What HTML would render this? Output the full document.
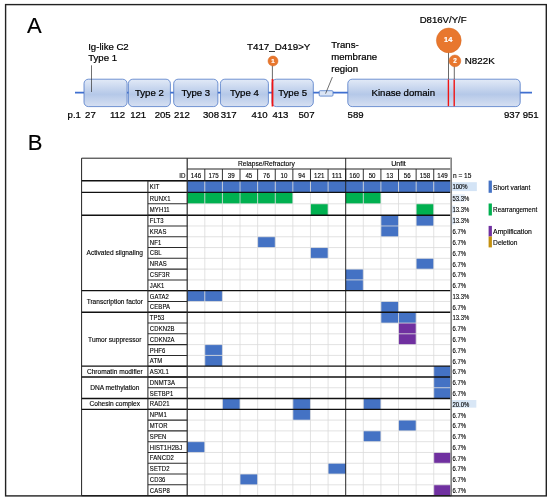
<!DOCTYPE html>
<html lang="en"><head><meta charset="utf-8"><title>KIT mutations figure</title>
<style>
html,body{margin:0;padding:0;background:#fff;}
body{width:550px;height:500px;overflow:hidden;}
svg{display:block;font-family:"Liberation Sans",sans-serif;}
</style></head><body>
<svg width="550" height="500" viewBox="0 0 550 500">
<defs>
<linearGradient id="dom" x1="0" y1="0" x2="0" y2="1">
<stop offset="0" stop-color="#e2eaf7"/>
<stop offset="0.55" stop-color="#b5c8e8"/>
<stop offset="1" stop-color="#d6e0f2"/>
</linearGradient>
</defs>
<rect x="0" y="0" width="550" height="500" fill="#fff"/>

<text x="27.00" y="33.20" font-size="22" fill="#000" stroke="#000" stroke-width="0.15">A</text>
<text x="27.70" y="150.00" font-size="22" fill="#000" stroke="#000" stroke-width="0.15">B</text>
<line x1="75.00" y1="92.60" x2="532.00" y2="92.60" stroke="#3f6fd0" stroke-width="1.6"/>
<rect x="84.00" y="79.20" width="43.10" height="27.40" fill="url(#dom)" stroke="#4571c4" stroke-width="0.75" rx="4.4"/>
<rect x="128.40" y="79.20" width="42.00" height="27.40" fill="url(#dom)" stroke="#4571c4" stroke-width="0.75" rx="4.4"/>
<text x="149.40" y="96.20" font-size="9.6" text-anchor="middle" fill="#000" stroke="#000" stroke-width="0.22">Type 2</text>
<rect x="173.70" y="79.20" width="44.20" height="27.40" fill="url(#dom)" stroke="#4571c4" stroke-width="0.75" rx="4.4"/>
<text x="195.80" y="96.20" font-size="9.6" text-anchor="middle" fill="#000" stroke="#000" stroke-width="0.22">Type 3</text>
<rect x="220.40" y="79.20" width="48.00" height="27.40" fill="url(#dom)" stroke="#4571c4" stroke-width="0.75" rx="4.4"/>
<text x="244.40" y="96.20" font-size="9.6" text-anchor="middle" fill="#000" stroke="#000" stroke-width="0.22">Type 4</text>
<rect x="272.00" y="79.20" width="41.30" height="27.40" fill="url(#dom)" stroke="#4571c4" stroke-width="0.75" rx="4.4"/>
<text x="292.65" y="96.20" font-size="9.6" text-anchor="middle" fill="#000" stroke="#000" stroke-width="0.22">Type 5</text>
<rect x="347.80" y="79.20" width="172.40" height="27.40" fill="url(#dom)" stroke="#4571c4" stroke-width="0.75" rx="4.4"/>
<text x="403.30" y="96.20" font-size="9.6" text-anchor="middle" fill="#000" stroke="#000" stroke-width="0.22">Kinase domain</text>
<rect x="319.20" y="90.70" width="13.80" height="5.40" fill="#dbe5f5" stroke="#4c78c6" stroke-width="0.8" rx="1"/>
<line x1="332.40" y1="77.00" x2="325.60" y2="93.60" stroke="#333" stroke-width="0.7"/>
<text x="88.20" y="49.50" font-size="9.6" fill="#000" stroke="#000" stroke-width="0.22">Ig-like C2</text>
<text x="88.20" y="61.20" font-size="9.6" fill="#000" stroke="#000" stroke-width="0.22">Type 1</text>
<line x1="91.50" y1="65.30" x2="91.50" y2="92.00" stroke="#333" stroke-width="0.7"/>
<text x="247.00" y="49.70" font-size="9.6" textLength="63.40" lengthAdjust="spacingAndGlyphs" fill="#000" stroke="#000" stroke-width="0.22">T417_D419&gt;Y</text>
<text x="331.30" y="48.40" font-size="9.6" fill="#000" stroke="#000" stroke-width="0.22">Trans-</text>
<text x="331.30" y="60.10" font-size="9.6" fill="#000" stroke="#000" stroke-width="0.22">membrane</text>
<text x="331.30" y="71.60" font-size="9.6" fill="#000" stroke="#000" stroke-width="0.22">region</text>
<text x="419.70" y="22.90" font-size="9.6" fill="#000" stroke="#000" stroke-width="0.22">D816V/Y/F</text>
<text x="464.70" y="64.40" font-size="9.6" textLength="30.00" lengthAdjust="spacingAndGlyphs" fill="#000" stroke="#000" stroke-width="0.22">N822K</text>
<text x="67.60" y="118.00" font-size="9.6" fill="#000" stroke="#000" stroke-width="0.22">p.1</text>
<text x="85.10" y="118.00" font-size="9.6" fill="#000" stroke="#000" stroke-width="0.22">27</text>
<text x="125.20" y="118.00" font-size="9.6" text-anchor="end" fill="#000" stroke="#000" stroke-width="0.22">112</text>
<text x="130.20" y="118.00" font-size="9.6" fill="#000" stroke="#000" stroke-width="0.22">121</text>
<text x="170.70" y="118.00" font-size="9.6" text-anchor="end" fill="#000" stroke="#000" stroke-width="0.22">205</text>
<text x="173.90" y="118.00" font-size="9.6" fill="#000" stroke="#000" stroke-width="0.22">212</text>
<text x="219.00" y="118.00" font-size="9.6" text-anchor="end" fill="#000" stroke="#000" stroke-width="0.22">308</text>
<text x="220.70" y="118.00" font-size="9.6" fill="#000" stroke="#000" stroke-width="0.22">317</text>
<text x="267.60" y="118.00" font-size="9.6" text-anchor="end" fill="#000" stroke="#000" stroke-width="0.22">410</text>
<text x="272.40" y="118.00" font-size="9.6" fill="#000" stroke="#000" stroke-width="0.22">413</text>
<text x="314.50" y="118.00" font-size="9.6" text-anchor="end" fill="#000" stroke="#000" stroke-width="0.22">507</text>
<text x="347.60" y="118.00" font-size="9.6" fill="#000" stroke="#000" stroke-width="0.22">589</text>
<text x="504.00" y="118.00" font-size="9.6" fill="#000" stroke="#000" stroke-width="0.22">937 951</text>
<line x1="272.40" y1="65.00" x2="272.40" y2="79.00" stroke="#444" stroke-width="0.8"/>
<line x1="272.50" y1="79.00" x2="272.50" y2="106.50" stroke="#f01414" stroke-width="1.8"/>
<circle cx="273" cy="61" r="5" fill="#e8772e" stroke="#d96a22" stroke-width="0.5"/>
<text x="273.00" y="63.30" font-size="6.2" text-anchor="middle" font-weight="bold" fill="#fff" stroke="#fff" stroke-width="0.22">1</text>
<line x1="448.50" y1="52.00" x2="448.50" y2="79.00" stroke="#444" stroke-width="0.8"/>
<line x1="454.30" y1="66.00" x2="454.30" y2="79.00" stroke="#444" stroke-width="0.8"/>
<line x1="448.40" y1="79.40" x2="448.40" y2="106.20" stroke="#f01414" stroke-width="1.4"/>
<line x1="454.20" y1="79.40" x2="454.20" y2="106.20" stroke="#f01414" stroke-width="1.4"/>
<circle cx="448.8" cy="40.4" r="12.4" fill="#e8772e" stroke="#d96a22" stroke-width="0.5"/>
<text x="448.20" y="42.40" font-size="7.4" text-anchor="middle" font-weight="bold" fill="#fff" stroke="#fff" stroke-width="0.22">14</text>
<circle cx="454.9" cy="60.9" r="5.9" fill="#e8772e" stroke="#d96a22" stroke-width="0.5"/>
<text x="454.90" y="63.20" font-size="6.3" text-anchor="middle" font-weight="bold" fill="#fff" stroke="#fff" stroke-width="0.22">2</text>
<rect x="451.95" y="182.20" width="24.90" height="8.90" fill="#d4e4f6"/>
<rect x="451.95" y="194.20" width="13.00" height="7.60" fill="#e6eff9"/>
<rect x="451.95" y="205.60" width="3.30" height="7.60" fill="#dfeaf7"/>
<rect x="451.95" y="217.00" width="3.30" height="7.40" fill="#dfeaf7"/>
<rect x="451.95" y="400.04" width="24.40" height="7.60" fill="#d9e7f6"/>
<rect x="187.20" y="180.70" width="17.61" height="11.70" fill="#4472c4"/>
<rect x="204.81" y="180.70" width="17.61" height="11.70" fill="#4472c4"/>
<rect x="222.42" y="180.70" width="17.61" height="11.70" fill="#4472c4"/>
<rect x="240.03" y="180.70" width="17.61" height="11.70" fill="#4472c4"/>
<rect x="257.64" y="180.70" width="17.61" height="11.70" fill="#4472c4"/>
<rect x="275.25" y="180.70" width="17.61" height="11.70" fill="#4472c4"/>
<rect x="292.86" y="180.70" width="17.61" height="11.70" fill="#4472c4"/>
<rect x="310.47" y="180.70" width="17.61" height="11.70" fill="#4472c4"/>
<rect x="328.08" y="180.70" width="17.61" height="11.70" fill="#4472c4"/>
<rect x="345.69" y="180.70" width="17.61" height="11.70" fill="#4472c4"/>
<rect x="363.30" y="180.70" width="17.61" height="11.70" fill="#4472c4"/>
<rect x="380.91" y="180.70" width="17.61" height="11.70" fill="#4472c4"/>
<rect x="398.52" y="180.70" width="17.61" height="11.70" fill="#4472c4"/>
<rect x="416.13" y="180.70" width="17.61" height="11.70" fill="#4472c4"/>
<rect x="433.74" y="180.70" width="17.61" height="11.70" fill="#4472c4"/>
<rect x="187.20" y="192.40" width="17.61" height="11.40" fill="#00b050"/>
<rect x="204.81" y="192.40" width="17.61" height="11.40" fill="#00b050"/>
<rect x="222.42" y="192.40" width="17.61" height="11.40" fill="#00b050"/>
<rect x="240.03" y="192.40" width="17.61" height="11.40" fill="#00b050"/>
<rect x="257.64" y="192.40" width="17.61" height="11.40" fill="#00b050"/>
<rect x="275.25" y="192.40" width="17.61" height="11.40" fill="#00b050"/>
<rect x="345.69" y="192.40" width="17.61" height="11.40" fill="#00b050"/>
<rect x="363.30" y="192.40" width="17.61" height="11.40" fill="#00b050"/>
<rect x="310.47" y="203.80" width="17.61" height="11.40" fill="#00b050"/>
<rect x="416.13" y="203.80" width="17.61" height="11.40" fill="#00b050"/>
<rect x="380.91" y="215.20" width="17.61" height="10.78" fill="#4472c4"/>
<rect x="416.13" y="215.20" width="17.61" height="10.78" fill="#4472c4"/>
<rect x="380.91" y="225.98" width="17.61" height="10.78" fill="#4472c4"/>
<rect x="257.64" y="236.77" width="17.61" height="10.78" fill="#4472c4"/>
<rect x="310.47" y="247.55" width="17.61" height="10.78" fill="#4472c4"/>
<rect x="416.13" y="258.34" width="17.61" height="10.78" fill="#4472c4"/>
<rect x="345.69" y="269.12" width="17.61" height="10.78" fill="#4472c4"/>
<rect x="345.69" y="279.91" width="17.61" height="10.78" fill="#4472c4"/>
<rect x="187.20" y="290.69" width="17.61" height="10.78" fill="#4472c4"/>
<rect x="204.81" y="290.69" width="17.61" height="10.78" fill="#4472c4"/>
<rect x="380.91" y="301.48" width="17.61" height="10.78" fill="#4472c4"/>
<rect x="380.91" y="312.26" width="17.61" height="10.78" fill="#4472c4"/>
<rect x="398.52" y="312.26" width="17.61" height="10.78" fill="#4472c4"/>
<rect x="398.52" y="323.05" width="17.61" height="10.78" fill="#7030a0"/>
<rect x="398.52" y="333.83" width="17.61" height="10.78" fill="#7030a0"/>
<rect x="204.81" y="344.62" width="17.61" height="10.78" fill="#4472c4"/>
<rect x="204.81" y="355.40" width="17.61" height="10.78" fill="#4472c4"/>
<rect x="433.74" y="366.18" width="17.61" height="10.78" fill="#4472c4"/>
<rect x="433.74" y="376.97" width="17.61" height="10.78" fill="#4472c4"/>
<rect x="433.74" y="387.75" width="17.61" height="10.78" fill="#4472c4"/>
<rect x="222.42" y="398.54" width="17.61" height="10.78" fill="#4472c4"/>
<rect x="292.86" y="398.54" width="17.61" height="10.78" fill="#4472c4"/>
<rect x="363.30" y="398.54" width="17.61" height="10.78" fill="#4472c4"/>
<rect x="292.86" y="409.32" width="17.61" height="10.78" fill="#4472c4"/>
<rect x="398.52" y="420.11" width="17.61" height="10.78" fill="#4472c4"/>
<rect x="363.30" y="430.89" width="17.61" height="10.78" fill="#4472c4"/>
<rect x="187.20" y="441.68" width="17.61" height="10.78" fill="#4472c4"/>
<rect x="433.74" y="452.46" width="17.61" height="10.78" fill="#7030a0"/>
<rect x="328.08" y="463.25" width="17.61" height="10.78" fill="#4472c4"/>
<rect x="240.03" y="474.03" width="17.61" height="10.78" fill="#4472c4"/>
<rect x="433.74" y="484.82" width="17.61" height="10.78" fill="#7030a0"/>
<line x1="204.81" y1="180.70" x2="204.81" y2="495.60" stroke="#dadada" stroke-width="0.8"/>
<line x1="222.42" y1="180.70" x2="222.42" y2="495.60" stroke="#dadada" stroke-width="0.8"/>
<line x1="240.03" y1="180.70" x2="240.03" y2="495.60" stroke="#dadada" stroke-width="0.8"/>
<line x1="257.64" y1="180.70" x2="257.64" y2="495.60" stroke="#dadada" stroke-width="0.8"/>
<line x1="275.25" y1="180.70" x2="275.25" y2="495.60" stroke="#dadada" stroke-width="0.8"/>
<line x1="292.86" y1="180.70" x2="292.86" y2="495.60" stroke="#dadada" stroke-width="0.8"/>
<line x1="310.47" y1="180.70" x2="310.47" y2="495.60" stroke="#dadada" stroke-width="0.8"/>
<line x1="328.08" y1="180.70" x2="328.08" y2="495.60" stroke="#dadada" stroke-width="0.8"/>
<line x1="363.30" y1="180.70" x2="363.30" y2="495.60" stroke="#dadada" stroke-width="0.8"/>
<line x1="380.91" y1="180.70" x2="380.91" y2="495.60" stroke="#dadada" stroke-width="0.8"/>
<line x1="398.52" y1="180.70" x2="398.52" y2="495.60" stroke="#dadada" stroke-width="0.8"/>
<line x1="416.13" y1="180.70" x2="416.13" y2="495.60" stroke="#dadada" stroke-width="0.8"/>
<line x1="433.74" y1="180.70" x2="433.74" y2="495.60" stroke="#dadada" stroke-width="0.8"/>
<line x1="187.20" y1="203.80" x2="451.35" y2="203.80" stroke="#dadada" stroke-width="0.8"/>
<line x1="187.20" y1="225.98" x2="451.35" y2="225.98" stroke="#dadada" stroke-width="0.8"/>
<line x1="187.20" y1="236.77" x2="451.35" y2="236.77" stroke="#dadada" stroke-width="0.8"/>
<line x1="187.20" y1="247.55" x2="451.35" y2="247.55" stroke="#dadada" stroke-width="0.8"/>
<line x1="187.20" y1="258.34" x2="451.35" y2="258.34" stroke="#dadada" stroke-width="0.8"/>
<line x1="187.20" y1="269.12" x2="451.35" y2="269.12" stroke="#dadada" stroke-width="0.8"/>
<line x1="187.20" y1="279.91" x2="451.35" y2="279.91" stroke="#dadada" stroke-width="0.8"/>
<line x1="187.20" y1="301.48" x2="451.35" y2="301.48" stroke="#dadada" stroke-width="0.8"/>
<line x1="187.20" y1="323.05" x2="451.35" y2="323.05" stroke="#dadada" stroke-width="0.8"/>
<line x1="187.20" y1="333.83" x2="451.35" y2="333.83" stroke="#dadada" stroke-width="0.8"/>
<line x1="187.20" y1="344.62" x2="451.35" y2="344.62" stroke="#dadada" stroke-width="0.8"/>
<line x1="187.20" y1="355.40" x2="451.35" y2="355.40" stroke="#dadada" stroke-width="0.8"/>
<line x1="187.20" y1="387.75" x2="451.35" y2="387.75" stroke="#dadada" stroke-width="0.8"/>
<line x1="187.20" y1="420.11" x2="451.35" y2="420.11" stroke="#dadada" stroke-width="0.8"/>
<line x1="187.20" y1="430.89" x2="451.35" y2="430.89" stroke="#dadada" stroke-width="0.8"/>
<line x1="187.20" y1="441.68" x2="451.35" y2="441.68" stroke="#dadada" stroke-width="0.8"/>
<line x1="187.20" y1="452.46" x2="451.35" y2="452.46" stroke="#dadada" stroke-width="0.8"/>
<line x1="187.20" y1="463.25" x2="451.35" y2="463.25" stroke="#dadada" stroke-width="0.8"/>
<line x1="187.20" y1="474.03" x2="451.35" y2="474.03" stroke="#dadada" stroke-width="0.8"/>
<line x1="187.20" y1="484.82" x2="451.35" y2="484.82" stroke="#dadada" stroke-width="0.8"/>
<line x1="81.60" y1="158.20" x2="451.35" y2="158.20" stroke="#222" stroke-width="1"/>
<line x1="187.20" y1="169.00" x2="451.35" y2="169.00" stroke="#222" stroke-width="1.0"/>
<line x1="204.81" y1="169.00" x2="204.81" y2="180.70" stroke="#2a2a2a" stroke-width="0.95"/>
<line x1="222.42" y1="169.00" x2="222.42" y2="180.70" stroke="#2a2a2a" stroke-width="0.95"/>
<line x1="240.03" y1="169.00" x2="240.03" y2="180.70" stroke="#2a2a2a" stroke-width="0.95"/>
<line x1="257.64" y1="169.00" x2="257.64" y2="180.70" stroke="#2a2a2a" stroke-width="0.95"/>
<line x1="275.25" y1="169.00" x2="275.25" y2="180.70" stroke="#2a2a2a" stroke-width="0.95"/>
<line x1="292.86" y1="169.00" x2="292.86" y2="180.70" stroke="#2a2a2a" stroke-width="0.95"/>
<line x1="310.47" y1="169.00" x2="310.47" y2="180.70" stroke="#2a2a2a" stroke-width="0.95"/>
<line x1="328.08" y1="169.00" x2="328.08" y2="180.70" stroke="#2a2a2a" stroke-width="0.95"/>
<line x1="345.69" y1="169.00" x2="345.69" y2="180.70" stroke="#2a2a2a" stroke-width="0.95"/>
<line x1="363.30" y1="169.00" x2="363.30" y2="180.70" stroke="#2a2a2a" stroke-width="0.95"/>
<line x1="380.91" y1="169.00" x2="380.91" y2="180.70" stroke="#2a2a2a" stroke-width="0.95"/>
<line x1="398.52" y1="169.00" x2="398.52" y2="180.70" stroke="#2a2a2a" stroke-width="0.95"/>
<line x1="416.13" y1="169.00" x2="416.13" y2="180.70" stroke="#2a2a2a" stroke-width="0.95"/>
<line x1="433.74" y1="169.00" x2="433.74" y2="180.70" stroke="#2a2a2a" stroke-width="0.95"/>
<text x="266.44" y="165.80" font-size="6.6" text-anchor="middle" textLength="56.70" lengthAdjust="spacingAndGlyphs" fill="#000" stroke="#000" stroke-width="0.12">Relapse/Refractory</text>
<text x="398.52" y="165.80" font-size="6.6" text-anchor="middle" textLength="14.50" lengthAdjust="spacingAndGlyphs" fill="#000" stroke="#000" stroke-width="0.12">Unfit</text>
<text x="185.40" y="177.90" font-size="6.6" text-anchor="end" textLength="6.20" lengthAdjust="spacingAndGlyphs" fill="#000" stroke="#000" stroke-width="0.12">ID</text>
<text x="196.00" y="177.90" font-size="6.6" text-anchor="middle" textLength="10.35" lengthAdjust="spacingAndGlyphs" fill="#000" stroke="#000" stroke-width="0.12">146</text>
<text x="213.61" y="177.90" font-size="6.6" text-anchor="middle" textLength="10.35" lengthAdjust="spacingAndGlyphs" fill="#000" stroke="#000" stroke-width="0.12">175</text>
<text x="231.22" y="177.90" font-size="6.6" text-anchor="middle" textLength="6.90" lengthAdjust="spacingAndGlyphs" fill="#000" stroke="#000" stroke-width="0.12">39</text>
<text x="248.83" y="177.90" font-size="6.6" text-anchor="middle" textLength="6.90" lengthAdjust="spacingAndGlyphs" fill="#000" stroke="#000" stroke-width="0.12">45</text>
<text x="266.44" y="177.90" font-size="6.6" text-anchor="middle" textLength="6.90" lengthAdjust="spacingAndGlyphs" fill="#000" stroke="#000" stroke-width="0.12">76</text>
<text x="284.05" y="177.90" font-size="6.6" text-anchor="middle" textLength="6.90" lengthAdjust="spacingAndGlyphs" fill="#000" stroke="#000" stroke-width="0.12">10</text>
<text x="301.66" y="177.90" font-size="6.6" text-anchor="middle" textLength="6.90" lengthAdjust="spacingAndGlyphs" fill="#000" stroke="#000" stroke-width="0.12">94</text>
<text x="319.27" y="177.90" font-size="6.6" text-anchor="middle" textLength="10.35" lengthAdjust="spacingAndGlyphs" fill="#000" stroke="#000" stroke-width="0.12">121</text>
<text x="336.88" y="177.90" font-size="6.6" text-anchor="middle" textLength="10.35" lengthAdjust="spacingAndGlyphs" fill="#000" stroke="#000" stroke-width="0.12">111</text>
<text x="354.50" y="177.90" font-size="6.6" text-anchor="middle" textLength="10.35" lengthAdjust="spacingAndGlyphs" fill="#000" stroke="#000" stroke-width="0.12">160</text>
<text x="372.11" y="177.90" font-size="6.6" text-anchor="middle" textLength="6.90" lengthAdjust="spacingAndGlyphs" fill="#000" stroke="#000" stroke-width="0.12">50</text>
<text x="389.71" y="177.90" font-size="6.6" text-anchor="middle" textLength="6.90" lengthAdjust="spacingAndGlyphs" fill="#000" stroke="#000" stroke-width="0.12">13</text>
<text x="407.32" y="177.90" font-size="6.6" text-anchor="middle" textLength="6.90" lengthAdjust="spacingAndGlyphs" fill="#000" stroke="#000" stroke-width="0.12">56</text>
<text x="424.93" y="177.90" font-size="6.6" text-anchor="middle" textLength="10.35" lengthAdjust="spacingAndGlyphs" fill="#000" stroke="#000" stroke-width="0.12">158</text>
<text x="442.54" y="177.90" font-size="6.6" text-anchor="middle" textLength="10.35" lengthAdjust="spacingAndGlyphs" fill="#000" stroke="#000" stroke-width="0.12">149</text>
<text x="452.95" y="177.90" font-size="6.6" textLength="18.50" lengthAdjust="spacingAndGlyphs" fill="#000" stroke="#000" stroke-width="0.12">n = 15</text>
<line x1="147.90" y1="180.70" x2="187.20" y2="180.70" stroke="#2a2a2a" stroke-width="1.05"/>
<text transform="translate(149.80,189.05) scale(0.9,1)" font-size="6.6" fill="#000" stroke="#000" stroke-width="0.12" letter-spacing="0.15">KIT</text>
<text transform="translate(452.45,189.35) scale(0.9,1)" font-size="6.6" fill="#000" stroke="#000" stroke-width="0.12">100%</text>
<line x1="147.90" y1="192.40" x2="187.20" y2="192.40" stroke="#2a2a2a" stroke-width="1.05"/>
<text transform="translate(149.80,200.60) scale(0.9,1)" font-size="6.6" fill="#000" stroke="#000" stroke-width="0.12" letter-spacing="0.15">RUNX1</text>
<text transform="translate(452.45,200.90) scale(0.9,1)" font-size="6.6" fill="#000" stroke="#000" stroke-width="0.12">53.3%</text>
<line x1="147.90" y1="203.80" x2="187.20" y2="203.80" stroke="#2a2a2a" stroke-width="1.05"/>
<text transform="translate(149.80,212.00) scale(0.9,1)" font-size="6.6" fill="#000" stroke="#000" stroke-width="0.12" letter-spacing="0.15">MYH11</text>
<text transform="translate(452.45,212.30) scale(0.9,1)" font-size="6.6" fill="#000" stroke="#000" stroke-width="0.12">13.3%</text>
<line x1="147.90" y1="215.20" x2="187.20" y2="215.20" stroke="#2a2a2a" stroke-width="1.05"/>
<text transform="translate(149.80,223.09) scale(0.9,1)" font-size="6.6" fill="#000" stroke="#000" stroke-width="0.12" letter-spacing="0.15">FLT3</text>
<text transform="translate(452.45,223.39) scale(0.9,1)" font-size="6.6" fill="#000" stroke="#000" stroke-width="0.12">13.3%</text>
<line x1="147.90" y1="225.98" x2="187.20" y2="225.98" stroke="#2a2a2a" stroke-width="1.05"/>
<text transform="translate(149.80,233.88) scale(0.9,1)" font-size="6.6" fill="#000" stroke="#000" stroke-width="0.12" letter-spacing="0.15">KRAS</text>
<text transform="translate(452.45,234.18) scale(0.9,1)" font-size="6.6" fill="#000" stroke="#000" stroke-width="0.12">6.7%</text>
<line x1="147.90" y1="236.77" x2="187.20" y2="236.77" stroke="#2a2a2a" stroke-width="1.05"/>
<text transform="translate(149.80,244.66) scale(0.9,1)" font-size="6.6" fill="#000" stroke="#000" stroke-width="0.12" letter-spacing="0.15">NF1</text>
<text transform="translate(452.45,244.96) scale(0.9,1)" font-size="6.6" fill="#000" stroke="#000" stroke-width="0.12">6.7%</text>
<line x1="147.90" y1="247.55" x2="187.20" y2="247.55" stroke="#2a2a2a" stroke-width="1.05"/>
<text transform="translate(149.80,255.45) scale(0.9,1)" font-size="6.6" fill="#000" stroke="#000" stroke-width="0.12" letter-spacing="0.15">CBL</text>
<text transform="translate(452.45,255.75) scale(0.9,1)" font-size="6.6" fill="#000" stroke="#000" stroke-width="0.12">6.7%</text>
<line x1="147.90" y1="258.34" x2="187.20" y2="258.34" stroke="#2a2a2a" stroke-width="1.05"/>
<text transform="translate(149.80,266.23) scale(0.9,1)" font-size="6.6" fill="#000" stroke="#000" stroke-width="0.12" letter-spacing="0.15">NRAS</text>
<text transform="translate(452.45,266.53) scale(0.9,1)" font-size="6.6" fill="#000" stroke="#000" stroke-width="0.12">6.7%</text>
<line x1="147.90" y1="269.12" x2="187.20" y2="269.12" stroke="#2a2a2a" stroke-width="1.05"/>
<text transform="translate(149.80,277.02) scale(0.9,1)" font-size="6.6" fill="#000" stroke="#000" stroke-width="0.12" letter-spacing="0.15">CSF3R</text>
<text transform="translate(452.45,277.32) scale(0.9,1)" font-size="6.6" fill="#000" stroke="#000" stroke-width="0.12">6.7%</text>
<line x1="147.90" y1="279.91" x2="187.20" y2="279.91" stroke="#2a2a2a" stroke-width="1.05"/>
<text transform="translate(149.80,287.80) scale(0.9,1)" font-size="6.6" fill="#000" stroke="#000" stroke-width="0.12" letter-spacing="0.15">JAK1</text>
<text transform="translate(452.45,288.10) scale(0.9,1)" font-size="6.6" fill="#000" stroke="#000" stroke-width="0.12">6.7%</text>
<line x1="147.90" y1="290.69" x2="187.20" y2="290.69" stroke="#2a2a2a" stroke-width="1.05"/>
<text transform="translate(149.80,298.58) scale(0.9,1)" font-size="6.6" fill="#000" stroke="#000" stroke-width="0.12" letter-spacing="0.15">GATA2</text>
<text transform="translate(452.45,298.88) scale(0.9,1)" font-size="6.6" fill="#000" stroke="#000" stroke-width="0.12">13.3%</text>
<line x1="147.90" y1="301.48" x2="187.20" y2="301.48" stroke="#2a2a2a" stroke-width="1.05"/>
<text transform="translate(149.80,309.37) scale(0.9,1)" font-size="6.6" fill="#000" stroke="#000" stroke-width="0.12" letter-spacing="0.15">CEBPA</text>
<text transform="translate(452.45,309.67) scale(0.9,1)" font-size="6.6" fill="#000" stroke="#000" stroke-width="0.12">6.7%</text>
<line x1="147.90" y1="312.26" x2="187.20" y2="312.26" stroke="#2a2a2a" stroke-width="1.05"/>
<text transform="translate(149.80,320.15) scale(0.9,1)" font-size="6.6" fill="#000" stroke="#000" stroke-width="0.12" letter-spacing="0.15">TP53</text>
<text transform="translate(452.45,320.45) scale(0.9,1)" font-size="6.6" fill="#000" stroke="#000" stroke-width="0.12">13.3%</text>
<line x1="147.90" y1="323.05" x2="187.20" y2="323.05" stroke="#2a2a2a" stroke-width="1.05"/>
<text transform="translate(149.80,330.94) scale(0.9,1)" font-size="6.6" fill="#000" stroke="#000" stroke-width="0.12" letter-spacing="0.15">CDKN2B</text>
<text transform="translate(452.45,331.24) scale(0.9,1)" font-size="6.6" fill="#000" stroke="#000" stroke-width="0.12">6.7%</text>
<line x1="147.90" y1="333.83" x2="187.20" y2="333.83" stroke="#2a2a2a" stroke-width="1.05"/>
<text transform="translate(149.80,341.72) scale(0.9,1)" font-size="6.6" fill="#000" stroke="#000" stroke-width="0.12" letter-spacing="0.15">CDKN2A</text>
<text transform="translate(452.45,342.02) scale(0.9,1)" font-size="6.6" fill="#000" stroke="#000" stroke-width="0.12">6.7%</text>
<line x1="147.90" y1="344.62" x2="187.20" y2="344.62" stroke="#2a2a2a" stroke-width="1.05"/>
<text transform="translate(149.80,352.51) scale(0.9,1)" font-size="6.6" fill="#000" stroke="#000" stroke-width="0.12" letter-spacing="0.15">PHF6</text>
<text transform="translate(452.45,352.81) scale(0.9,1)" font-size="6.6" fill="#000" stroke="#000" stroke-width="0.12">6.7%</text>
<line x1="147.90" y1="355.40" x2="187.20" y2="355.40" stroke="#2a2a2a" stroke-width="1.05"/>
<text transform="translate(149.80,363.29) scale(0.9,1)" font-size="6.6" fill="#000" stroke="#000" stroke-width="0.12" letter-spacing="0.15">ATM</text>
<text transform="translate(452.45,363.59) scale(0.9,1)" font-size="6.6" fill="#000" stroke="#000" stroke-width="0.12">6.7%</text>
<line x1="147.90" y1="366.18" x2="187.20" y2="366.18" stroke="#2a2a2a" stroke-width="1.05"/>
<text transform="translate(149.80,374.08) scale(0.9,1)" font-size="6.6" fill="#000" stroke="#000" stroke-width="0.12" letter-spacing="0.15">ASXL1</text>
<text transform="translate(452.45,374.38) scale(0.9,1)" font-size="6.6" fill="#000" stroke="#000" stroke-width="0.12">6.7%</text>
<line x1="147.90" y1="376.97" x2="187.20" y2="376.97" stroke="#2a2a2a" stroke-width="1.05"/>
<text transform="translate(149.80,384.86) scale(0.9,1)" font-size="6.6" fill="#000" stroke="#000" stroke-width="0.12" letter-spacing="0.15">DNMT3A</text>
<text transform="translate(452.45,385.16) scale(0.9,1)" font-size="6.6" fill="#000" stroke="#000" stroke-width="0.12">6.7%</text>
<line x1="147.90" y1="387.75" x2="187.20" y2="387.75" stroke="#2a2a2a" stroke-width="1.05"/>
<text transform="translate(149.80,395.65) scale(0.9,1)" font-size="6.6" fill="#000" stroke="#000" stroke-width="0.12" letter-spacing="0.15">SETBP1</text>
<text transform="translate(452.45,395.95) scale(0.9,1)" font-size="6.6" fill="#000" stroke="#000" stroke-width="0.12">6.7%</text>
<line x1="147.90" y1="398.54" x2="187.20" y2="398.54" stroke="#2a2a2a" stroke-width="1.05"/>
<text transform="translate(149.80,406.43) scale(0.9,1)" font-size="6.6" fill="#000" stroke="#000" stroke-width="0.12" letter-spacing="0.15">RAD21</text>
<text transform="translate(452.45,406.73) scale(0.9,1)" font-size="6.6" fill="#000" stroke="#000" stroke-width="0.12">20.0%</text>
<line x1="147.90" y1="409.32" x2="187.20" y2="409.32" stroke="#2a2a2a" stroke-width="1.05"/>
<text transform="translate(149.80,417.22) scale(0.9,1)" font-size="6.6" fill="#000" stroke="#000" stroke-width="0.12" letter-spacing="0.15">NPM1</text>
<text transform="translate(452.45,417.52) scale(0.9,1)" font-size="6.6" fill="#000" stroke="#000" stroke-width="0.12">6.7%</text>
<line x1="147.90" y1="420.11" x2="187.20" y2="420.11" stroke="#2a2a2a" stroke-width="1.05"/>
<text transform="translate(149.80,428.00) scale(0.9,1)" font-size="6.6" fill="#000" stroke="#000" stroke-width="0.12" letter-spacing="0.15">MTOR</text>
<text transform="translate(452.45,428.30) scale(0.9,1)" font-size="6.6" fill="#000" stroke="#000" stroke-width="0.12">6.7%</text>
<line x1="147.90" y1="430.89" x2="187.20" y2="430.89" stroke="#2a2a2a" stroke-width="1.05"/>
<text transform="translate(149.80,438.78) scale(0.9,1)" font-size="6.6" fill="#000" stroke="#000" stroke-width="0.12" letter-spacing="0.15">SPEN</text>
<text transform="translate(452.45,439.08) scale(0.9,1)" font-size="6.6" fill="#000" stroke="#000" stroke-width="0.12">6.7%</text>
<line x1="147.90" y1="441.68" x2="187.20" y2="441.68" stroke="#2a2a2a" stroke-width="1.05"/>
<text transform="translate(149.80,449.57) scale(0.9,1)" font-size="6.6" fill="#000" stroke="#000" stroke-width="0.12" letter-spacing="0.15">HIST1H2BJ</text>
<text transform="translate(452.45,449.87) scale(0.9,1)" font-size="6.6" fill="#000" stroke="#000" stroke-width="0.12">6.7%</text>
<line x1="147.90" y1="452.46" x2="187.20" y2="452.46" stroke="#2a2a2a" stroke-width="1.05"/>
<text transform="translate(149.80,460.35) scale(0.9,1)" font-size="6.6" fill="#000" stroke="#000" stroke-width="0.12" letter-spacing="0.15">FANCD2</text>
<text transform="translate(452.45,460.65) scale(0.9,1)" font-size="6.6" fill="#000" stroke="#000" stroke-width="0.12">6.7%</text>
<line x1="147.90" y1="463.25" x2="187.20" y2="463.25" stroke="#2a2a2a" stroke-width="1.05"/>
<text transform="translate(149.80,471.14) scale(0.9,1)" font-size="6.6" fill="#000" stroke="#000" stroke-width="0.12" letter-spacing="0.15">SETD2</text>
<text transform="translate(452.45,471.44) scale(0.9,1)" font-size="6.6" fill="#000" stroke="#000" stroke-width="0.12">6.7%</text>
<line x1="147.90" y1="474.03" x2="187.20" y2="474.03" stroke="#2a2a2a" stroke-width="1.05"/>
<text transform="translate(149.80,481.92) scale(0.9,1)" font-size="6.6" fill="#000" stroke="#000" stroke-width="0.12" letter-spacing="0.15">CD36</text>
<text transform="translate(452.45,482.22) scale(0.9,1)" font-size="6.6" fill="#000" stroke="#000" stroke-width="0.12">6.7%</text>
<line x1="147.90" y1="484.82" x2="187.20" y2="484.82" stroke="#2a2a2a" stroke-width="1.05"/>
<text transform="translate(149.80,492.71) scale(0.9,1)" font-size="6.6" fill="#000" stroke="#000" stroke-width="0.12" letter-spacing="0.15">CASP8</text>
<text transform="translate(452.45,493.01) scale(0.9,1)" font-size="6.6" fill="#000" stroke="#000" stroke-width="0.12">6.7%</text>
<line x1="81.60" y1="180.70" x2="451.35" y2="180.70" stroke="#111" stroke-width="1.35"/>
<line x1="81.60" y1="192.40" x2="451.35" y2="192.40" stroke="#111" stroke-width="1.35"/>
<line x1="81.60" y1="215.20" x2="451.35" y2="215.20" stroke="#111" stroke-width="1.35"/>
<text x="114.75" y="255.35" font-size="6.6" text-anchor="middle" fill="#000" stroke="#000" stroke-width="0.12">Activated siignaling</text>
<line x1="81.60" y1="290.69" x2="451.35" y2="290.69" stroke="#111" stroke-width="1.35"/>
<text x="114.75" y="303.88" font-size="6.6" text-anchor="middle" fill="#000" stroke="#000" stroke-width="0.12">Transcription factor</text>
<line x1="81.60" y1="312.26" x2="451.35" y2="312.26" stroke="#111" stroke-width="1.35"/>
<text x="114.75" y="341.62" font-size="6.6" text-anchor="middle" fill="#000" stroke="#000" stroke-width="0.12">Tumor suppressor</text>
<line x1="81.60" y1="366.18" x2="451.35" y2="366.18" stroke="#111" stroke-width="1.35"/>
<text x="114.75" y="373.98" font-size="6.6" text-anchor="middle" fill="#000" stroke="#000" stroke-width="0.12">Chromatin modifier</text>
<line x1="81.60" y1="376.97" x2="451.35" y2="376.97" stroke="#111" stroke-width="1.35"/>
<text x="114.75" y="390.15" font-size="6.6" text-anchor="middle" fill="#000" stroke="#000" stroke-width="0.12">DNA methylation</text>
<line x1="81.60" y1="398.54" x2="451.35" y2="398.54" stroke="#111" stroke-width="1.35"/>
<text x="114.75" y="406.33" font-size="6.6" text-anchor="middle" fill="#000" stroke="#000" stroke-width="0.12">Cohesin complex</text>
<line x1="81.60" y1="409.32" x2="451.35" y2="409.32" stroke="#111" stroke-width="1.35"/>
<line x1="81.60" y1="495.60" x2="451.35" y2="495.60" stroke="#111" stroke-width="1.2"/>
<line x1="81.60" y1="158.20" x2="81.60" y2="495.60" stroke="#222" stroke-width="1"/>
<line x1="147.90" y1="180.70" x2="147.90" y2="495.60" stroke="#2a2a2a" stroke-width="1.05"/>
<line x1="187.20" y1="158.20" x2="187.20" y2="495.60" stroke="#2a2a2a" stroke-width="1.2"/>
<line x1="345.69" y1="158.20" x2="345.69" y2="495.60" stroke="#111" stroke-width="0.9"/>
<line x1="450.85" y1="157.70" x2="450.85" y2="495.60" stroke="#fff" stroke-width="1.0"/>
<line x1="451.15" y1="157.70" x2="451.15" y2="495.60" stroke="#707070" stroke-width="1.4"/>
<rect x="488.60" y="180.60" width="3.30" height="12.20" fill="#4472c4"/>
<rect x="488.60" y="203.50" width="3.30" height="12.00" fill="#00b050"/>
<rect x="488.60" y="225.90" width="3.30" height="10.60" fill="#7030a0"/>
<rect x="488.60" y="236.50" width="3.30" height="10.90" fill="#c4900f"/>
<text x="493.10" y="189.70" font-size="6.6" textLength="37.20" lengthAdjust="spacingAndGlyphs" fill="#000" stroke="#000" stroke-width="0.12">Short variant</text>
<text x="493.10" y="212.00" font-size="6.6" textLength="44.10" lengthAdjust="spacingAndGlyphs" fill="#000" stroke="#000" stroke-width="0.12">Rearrangement</text>
<text x="493.10" y="234.20" font-size="6.6" textLength="38.80" lengthAdjust="spacingAndGlyphs" fill="#000" stroke="#000" stroke-width="0.12">Amplification</text>
<text x="493.10" y="244.70" font-size="6.6" textLength="24.40" lengthAdjust="spacingAndGlyphs" fill="#000" stroke="#000" stroke-width="0.12">Deletion</text>
<rect x="5.60" y="4.60" width="540.70" height="491.30" fill="none" stroke="#222" stroke-width="1.4"/>
</svg></body></html>
